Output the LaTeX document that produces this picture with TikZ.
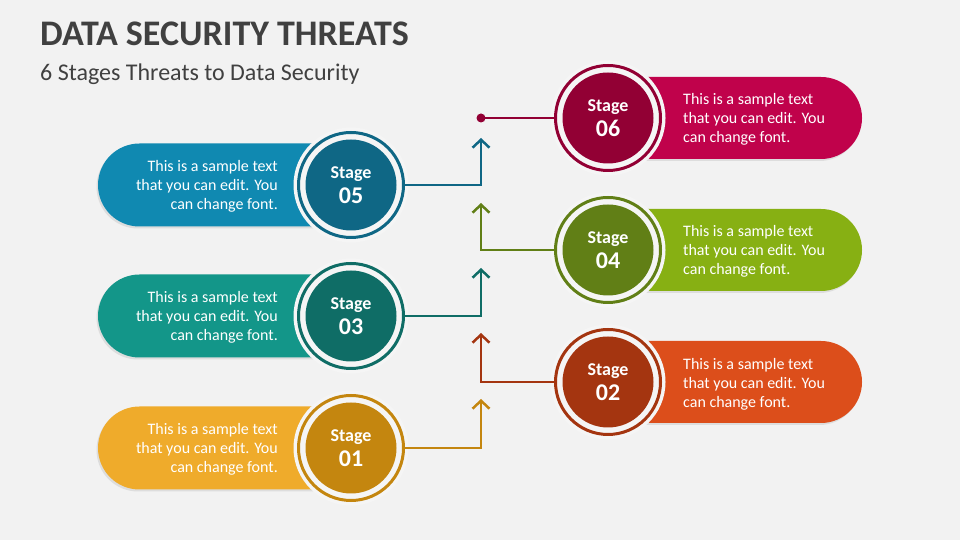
\documentclass[tikz,border=0pt]{standalone}
\usepackage{fontspec}
\setmainfont{Carlito}
\usetikzlibrary{arrows.meta,shadows}
\definecolor{bg}{HTML}{F2F2F2}
\definecolor{gapc}{HTML}{F5F5F5}
\definecolor{titlec}{HTML}{404040}
\definecolor{pA}{HTML}{EFAB2B}\definecolor{cA}{HTML}{C4860F}
\definecolor{pB}{HTML}{DC4E1B}\definecolor{cB}{HTML}{A43510}
\definecolor{pC}{HTML}{139689}\definecolor{cC}{HTML}{0F6D66}
\definecolor{pD}{HTML}{87B013}\definecolor{cD}{HTML}{617F16}
\definecolor{pE}{HTML}{1089B1}\definecolor{cE}{HTML}{0F6785}
\definecolor{pF}{HTML}{C0024B}\definecolor{cF}{HTML}{920034}
\tikzset{
  pilltext/.style={text=white, font=\fontsize{16}{19}\selectfont, inner sep=0pt},
  ringnode/.style={circle, minimum size=105pt, inner sep=0pt, line width=3pt, fill=gapc},
  stagenode/.style={circle, minimum size=91pt, inner sep=0pt, text=white, align=center},
  conn/.style={line width=2.5pt},
  tipped/.style={-{Straight Barb[length=8pt,width=17pt]}},
  pshadow/.style={drop shadow={opacity=0.18, shadow xshift=-1.5pt, shadow yshift=-2pt}}
}
\newcommand{\stagelabel}[1]{{\fontsize{18}{20}\selectfont\bfseries Stage}\\[5pt]{\fontsize{24}{26}\selectfont\bfseries #1}}
\newcommand{\sampletext}{This is a sample text\\that you can edit. You\\can change font.}
\begin{document}
\begin{tikzpicture}[x=1pt,y=1pt]
\fill[bg] (0,0) rectangle (960,540);
\useasboundingbox (0,0) rectangle (960,540);

% title
\node[anchor=base west, inner sep=0pt, text=titlec, font=\fontsize{36}{40}\selectfont\bfseries] (title) at (40,494) {DATA SECURITY THREATS};
\node[anchor=base west, inner sep=0pt, text=titlec, font=\fontsize{24}{28}\selectfont] (subtitle) at (40,459) {6 Stages Threats to Data Security};

% left pills
\fill[pE, pshadow] (330,396.5) -- (139.5,396.5) arc[start angle=90,end angle=270,radius=41.5] -- (330,313.5) -- cycle;
\fill[pC, pshadow] (330,265.5) -- (139.5,265.5) arc[start angle=90,end angle=270,radius=41.5] -- (330,182.5) -- cycle;
\fill[pA, pshadow] (330,133.5) -- (139.5,133.5) arc[start angle=90,end angle=270,radius=41.5] -- (330,50.5) -- cycle;
% right pills
\fill[pF, pshadow] (608,463) -- (821,463) arc[start angle=90,end angle=-90,radius=41] -- (608,381) -- cycle;
\fill[pD, pshadow] (608,331) -- (821,331) arc[start angle=90,end angle=-90,radius=41] -- (608,249) -- cycle;
\fill[pB, pshadow] (608,199) -- (821,199) arc[start angle=90,end angle=-90,radius=41] -- (608,117) -- cycle;

% pill texts
\node[pilltext, anchor=east, align=right] (t5) at (278,353.5) {\sampletext};
\node[pilltext, anchor=east, align=right] (t3) at (278,222.5) {\sampletext};
\node[pilltext, anchor=east, align=right] (t1) at (278,90.5) {\sampletext};
\node[pilltext, anchor=west, align=left] (t6) at (683,420.5) {\sampletext};
\node[pilltext, anchor=west, align=left] (t4) at (683,288.5) {\sampletext};
\node[pilltext, anchor=west, align=left] (t2) at (683,156) {\sampletext};

% cut-out disks
\foreach \p in {(351,355),(351,224),(351,92),(608,422),(608,290),(608,158)}
  \fill[gapc] \p circle (57.5);

% rings and stage circles
\node[ringnode, draw=cE] (r05) at (351,355) {};
\node[ringnode, draw=cC] (r03) at (351,224) {};
\node[ringnode, draw=cA] (r01) at (351,92) {};
\node[ringnode, draw=cF] (r06) at (608,422) {};
\node[ringnode, draw=cD] (r04) at (608,290) {};
\node[ringnode, draw=cB] (r02) at (608,158) {};

\node[stagenode, fill=cE] (s05) at (351,355) {\stagelabel{05}};
\node[stagenode, fill=cC] (s03) at (351,224) {\stagelabel{03}};
\node[stagenode, fill=cA] (s01) at (351,92) {\stagelabel{01}};
\node[stagenode, fill=cF] (s06) at (608,422) {\stagelabel{06}};
\node[stagenode, fill=cD] (s04) at (608,290) {\stagelabel{04}};
\node[stagenode, fill=cB] (s02) at (608,158) {\stagelabel{02}};

% connectors
\coordinate (a05) at (481,402);
\coordinate (a04) at (481,337);
\coordinate (a03) at (481,272);
\coordinate (a02) at (481,207);
\coordinate (a01) at (481,141);
\coordinate (d06) at (481,422);

\draw[conn, cE, tipped] (r05.east) -| (a05);
\draw[conn, cC, tipped] (r03.east) -| (a03);
\draw[conn, cA, tipped] (r01.east) -| (a01);
\draw[conn, cD, tipped] (r04.west) -| (a04);
\draw[conn, cB, tipped] (r02.west) -| (a02);
\draw[conn, cF] (r06.west) -- (d06);
\fill[cF] (d06) circle (4.5);
\end{tikzpicture}
\end{document}
